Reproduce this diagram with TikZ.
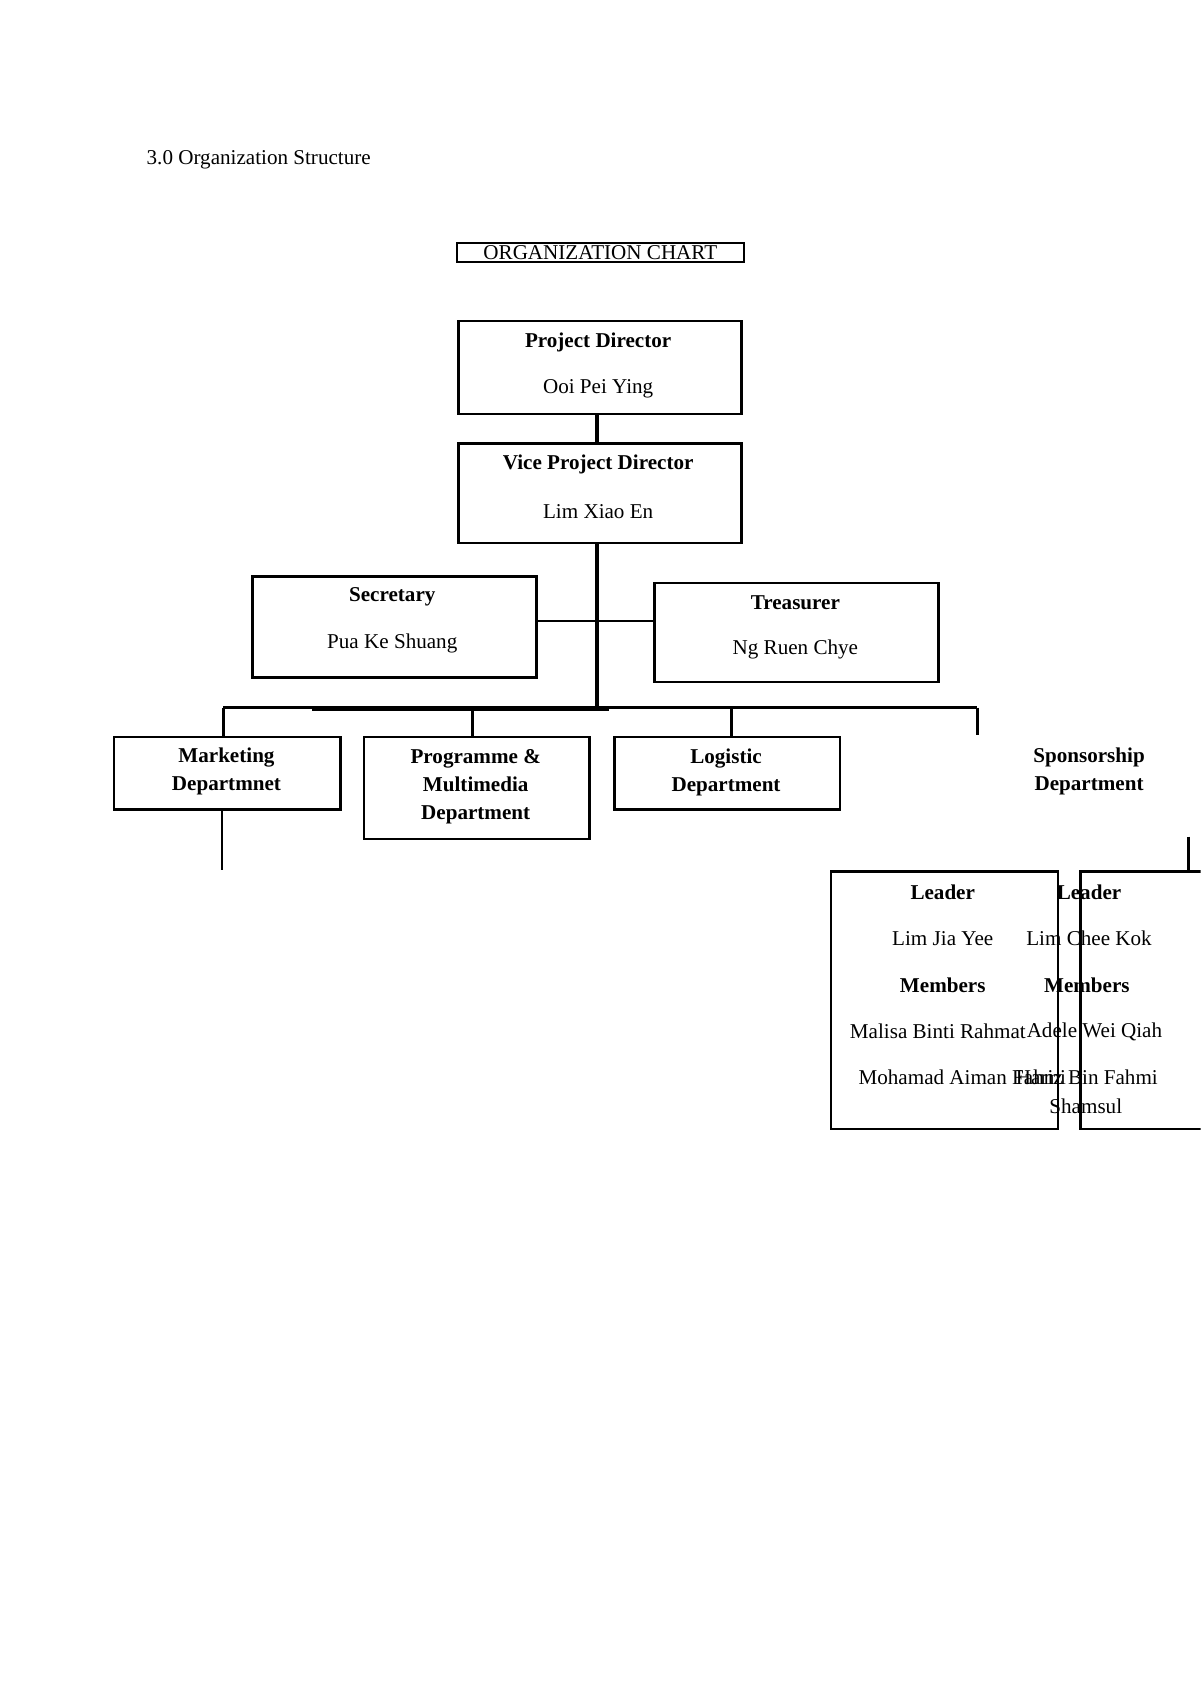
\documentclass[tikz,border=0pt]{standalone}
\usepackage{fontspec}
\setmainfont{Liberation Serif}
\usetikzlibrary{positioning}
\begin{document}
\begin{tikzpicture}[x=0.01895cm,y=-0.01895cm,
  style={align=center, font=\fontsize{10.5}{12}\selectfont},
  box/.style={draw, line width=1.2pt, inner sep=0pt, anchor=north west},
  txt/.style={inner sep=0pt},
  link/.style={line width=1.3pt},
  stem/.style={line width=2.2pt}]
\useasboundingbox (0,0) rectangle (1108,1567);
\clip (0,0) rectangle (1108,1567);

\node[txt, anchor=west] (title) at (135,147) {3.0 Organization Structure};
\node[draw, line width=1pt, inner sep=1pt, minimum width=265*0.01895cm] (chart) at (554,233) {ORGANIZATION CHART};

% top levels
\node[box, minimum width=261*0.01895cm, minimum height=86*0.01895cm] (PD) at (422,295) {};
\node[txt] at (552,316) {\textbf{Project Director}};
\node[txt] at (552,359) {Ooi Pei Ying};
\node[box, minimum width=261*0.01895cm, minimum height=92*0.01895cm] (VPD) at (422,408) {};
\node[txt] at (552,429) {\textbf{Vice Project Director}};
\node[txt] at (552,472) {Lim Xiao En};
\node[box, minimum width=262*0.01895cm, minimum height=93*0.01895cm] (SEC) at (232,531) {};
\node[txt] at (362,551) {\textbf{Secretary}};
\node[txt] at (362,594) {Pua Ke Shuang};
\node[box, minimum width=262*0.01895cm, minimum height=91*0.01895cm] (TRE) at (603,537) {};
\node[txt] at (734,556) {\textbf{Treasurer}};
\node[txt] at (734,599) {Ng Ruen Chye};

% departments
\node[box, minimum width=209*0.01895cm, minimum height=67*0.01895cm] (MKT) at (104,679) {};
\node[txt] at (209,712) {\textbf{Marketing}\\[2pt]\textbf{Departmnet}};
\node[box, minimum width=208*0.01895cm, minimum height=94*0.01895cm] (PRG) at (335,679) {};
\node[txt] at (439,726) {\textbf{Programme \&}\\[2pt]\textbf{Multimedia}\\[2pt]\textbf{Department}};
\node[box, minimum width=208*0.01895cm, minimum height=67*0.01895cm] (LOG) at (566,679) {};
\node[txt] at (670,713) {\textbf{Logistic}\\[2pt]\textbf{Department}};
\node[txt] (SPO) at (1005,712) {\textbf{Sponsorship}\\[2pt]\textbf{Department}};

% sub-team boxes
\node[box, minimum width=209*0.01895cm, minimum height=238*0.01895cm] (TA) at (766,803) {};
\node[box, minimum width=200*0.01895cm, minimum height=238*0.01895cm] (TB) at (996,803) {};
\node[txt] at (870,823) {\textbf{Leader}};
\node[txt] at (870,866) {Lim Jia Yee};
\node[txt] at (870,909) {\textbf{Members}};
\node[txt, anchor=west] at (784,952) {Malisa Binti Rahmat};
\node[txt, anchor=west] at (792,994) {Mohamad Aiman Fahmi};
\node[txt] at (1005,823) {\textbf{Leader}};
\node[txt] at (1005,866) {Lim Chee Kok};
\node[txt] at (1003,909) {\textbf{Members}};
\node[txt] at (1010,952) {Adele Wei Qiah};
\node[txt] at (1003,994) {Hariz Bin Fahmi};
\node[txt] at (1002,1021) {Shamsul};

\coordinate (bus) at (551,655);
\coordinate (busL) at (206,653);
\coordinate (busR) at (902,653);
\coordinate (mid) at (551,573);

\draw[stem] (PD.south -| 551,0) -- (VPD.north -| 551,0);
\draw[stem] (VPD.south -| 551,0) -- (bus);
\draw[link] (SEC.east |- mid) -- (TRE.west |- mid);
\draw[link] (busL) -- (busR);
\draw[stem] (288,654) -- (562,654);
\draw[link] (busL) -- (MKT.north -| busL);
\draw[link] (436,653) -- (PRG.north -| 436,0);
\draw[link] (675,653) -- (LOG.north -| 675,0);
\draw[link] (busR) -- (902,678);
\draw[link] (MKT.south -| 205,0) -- (205,803);
\draw[link] (1097,772) -- (TB.north -| 1097,0);
\end{tikzpicture}
\end{document}
